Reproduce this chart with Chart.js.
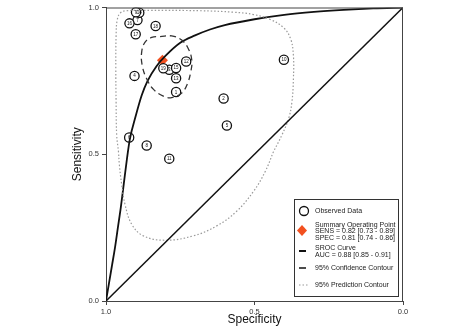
<!DOCTYPE html>
<html>
<head>
<meta charset="utf-8">
<script src="https://cdn.jsdelivr.net/npm/chart.js@4"></script>
<style>
  html, body { margin: 0; padding: 0; background: #fff; }
  #wrap { width: 474px; height: 331px; }
</style>
</head>
<body>
<div id="wrap"><canvas id="sroc" width="474" height="331"></canvas></div>
<script>
// Studien pisteet (specificity, sensitivity) ja numerot
const studyLabels = ["1", "2", "3", "4", "5", "6", "7", "8", "14", "9", "10", "11", "12", "13", "15", "16", "17", "18", "19"];
const studySpec = [0.764, 0.604, 0.787, 0.904, 0.593, 0.922, 0.894, 0.863, 0.888, 0.899, 0.401, 0.787, 0.730, 0.764, 0.764, 0.921, 0.900, 0.833, 0.807];
const studySens = [0.712, 0.690, 0.788, 0.767, 0.598, 0.557, 0.957, 0.530, 0.982, 0.984, 0.822, 0.485, 0.816, 0.759, 0.794, 0.946, 0.909, 0.937, 0.793];

// Yhteenvetopiste
const summarySpec = [0.81];
const summarySens = [0.82];

// SROC-kayra
const srocSpec = [1.0, 0.99, 0.98, 0.97, 0.96, 0.95, 0.94, 0.93, 0.92, 0.90, 0.88, 0.86, 0.83, 0.80, 0.75, 0.70, 0.65, 0.60, 0.50, 0.40, 0.30, 0.20, 0.10, 0.0];
const srocSens = [0.0, 0.06, 0.12, 0.18, 0.25, 0.32, 0.40, 0.48, 0.55, 0.63, 0.70, 0.75, 0.80, 0.835, 0.88, 0.905, 0.925, 0.940, 0.960, 0.975, 0.985, 0.992, 0.997, 1.0];

// 95% luottamusalue
const confSpec = [0.818, 0.779, 0.745, 0.722, 0.711, 0.715, 0.726, 0.745, 0.779, 0.807, 0.840, 0.863, 0.878, 0.880, 0.869, 0.846, 0.818];
const confSens = [0.901, 0.903, 0.889, 0.858, 0.819, 0.779, 0.740, 0.709, 0.693, 0.698, 0.721, 0.757, 0.802, 0.847, 0.881, 0.898, 0.901];

// 95% ennustealue
const predSpec = [0.436, 0.464, 0.503, 0.560, 0.627, 0.706, 0.801, 0.874, 0.913, 0.936, 0.947, 0.955, 0.958, 0.964, 0.966, 0.967, 0.966, 0.962, 0.951, 0.930, 0.852, 0.683, 0.571, 0.503, 0.447, 0.402, 0.378, 0.369, 0.369, 0.374, 0.385, 0.408, 0.436];
const predSens = [0.509, 0.441, 0.374, 0.306, 0.256, 0.222, 0.207, 0.222, 0.261, 0.329, 0.396, 0.464, 0.509, 0.565, 0.678, 0.791, 0.903, 0.959, 0.982, 0.989, 0.990, 0.989, 0.984, 0.976, 0.959, 0.931, 0.892, 0.836, 0.757, 0.678, 0.622, 0.565, 0.509];

// Diagonaali
const diagSpec = [1.0, 0.0];
const diagSens = [0.0, 1.0];

// Akselit
const axisTicks = [0, 0.5, 1];

const legendLines = {
  observed: "Observed Data",
  summary: ["Summary Operating Point", "SENS = 0.82 [0.73 - 0.89]", "SPEC = 0.81 [0.74 - 0.86]"],
  sroc: ["SROC Curve", "AUC = 0.88 [0.85 - 0.91]"],
  conf: "95% Confidence Contour",
  pred: "95% Prediction Contour"
};

const zip = (xs, ys) => xs.map((x, i) => ({ x: x, y: ys[i] }));

const FONT = "'Liberation Sans', Arial, sans-serif";

// Numerot ympyroiden sisaan + kehys + selite
const extras = {
  id: "extras",
  afterDatasetsDraw(chart) {
    const c = chart.ctx;
    const area = chart.chartArea;

    // numerot
    const meta = chart.getDatasetMeta(4);
    c.save();
    c.font = "4.5px " + FONT;
    c.fillStyle = "#111";
    c.textAlign = "center";
    c.textBaseline = "middle";
    meta.data.forEach((pt, i) => {
      c.fillText(studyLabels[i], pt.x, pt.y + 0.3);
    });
    c.restore();

    // kehys
    c.save();
    c.strokeStyle = "#444";
    c.lineWidth = 1;
    c.beginPath();
    c.moveTo(area.left, area.top + 0.5);
    c.lineTo(area.right - 0.5, area.top + 0.5);
    c.lineTo(area.right - 0.5, area.bottom);
    c.stroke();
    c.restore();

    // selite
    const lx = area.right - 109, ly = 199, lw = 104, lh = 97;
    c.save();
    c.fillStyle = "#fff";
    c.fillRect(lx, ly, lw, lh);
    c.strokeStyle = "#333";
    c.lineWidth = 1;
    c.strokeRect(lx + 0.5, ly + 0.5, lw, lh);

    const sx = lx + 10, tx = lx + 21;
    c.font = "7px " + FONT;
    c.fillStyle = "#222";
    c.textAlign = "left";
    c.textBaseline = "middle";

    // ympyra
    c.beginPath();
    c.arc(sx, ly + 12, 4.5, 0, Math.PI * 2);
    c.strokeStyle = "#111";
    c.lineWidth = 1.3;
    c.stroke();
    c.fillText(legendLines.observed, tx, ly + 12);

    // timantti
    c.beginPath();
    c.moveTo(sx - 2, ly + 26);
    c.lineTo(sx + 3, ly + 31.5);
    c.lineTo(sx - 2, ly + 37);
    c.lineTo(sx - 7, ly + 31.5);
    c.closePath();
    c.fillStyle = "#f2501f";
    c.fill();
    c.fillStyle = "#222";
    legendLines.summary.forEach((t, i) => c.fillText(t, tx, ly + 26 + i * 6.5));

    // SROC
    c.beginPath();
    c.moveTo(sx - 5, ly + 52);
    c.lineTo(sx + 2, ly + 52);
    c.strokeStyle = "#111";
    c.lineWidth = 2;
    c.stroke();
    legendLines.sroc.forEach((t, i) => c.fillText(t, tx, ly + 49 + i * 7));

    // luottamus
    c.beginPath();
    c.moveTo(sx - 5, ly + 69);
    c.lineTo(sx + 2, ly + 69);
    c.lineWidth = 1.5;
    c.stroke();
    c.fillText(legendLines.conf, tx, ly + 69.5);

    // ennuste
    c.beginPath();
    c.setLineDash([1.5, 2]);
    c.moveTo(sx - 5, ly + 86);
    c.lineTo(sx + 4, ly + 86);
    c.strokeStyle = "#999";
    c.lineWidth = 1.2;
    c.stroke();
    c.setLineDash([]);
    c.fillText(legendLines.pred, tx, ly + 86);
    c.restore();
  }
};

const ctx = document.getElementById("sroc").getContext("2d");

new Chart(ctx, {
  type: "scatter",
  data: {
    datasets: [
      {
        label: "diag",
        type: "line",
        data: zip(diagSpec, diagSens),
        borderColor: "#111",
        borderWidth: 1.5,
        pointRadius: 0,
        fill: false
      },
      {
        label: "pred",
        type: "line",
        data: zip(predSpec, predSens),
        borderColor: "#9a9a9a",
        borderWidth: 1.2,
        borderDash: [1.5, 2],
        pointRadius: 0,
        tension: 0.4,
        fill: false
      },
      {
        label: "conf",
        type: "line",
        data: zip(confSpec, confSens),
        borderColor: "#333",
        borderWidth: 1.3,
        borderDash: [6, 4],
        pointRadius: 0,
        tension: 0.4,
        fill: false
      },
      {
        label: "sroc",
        type: "line",
        data: zip(srocSpec, srocSens),
        borderColor: "#111",
        borderWidth: 1.8,
        pointRadius: 0,
        cubicInterpolationMode: "monotone",
        fill: false
      },
      {
        label: "studies",
        data: zip(studySpec, studySens),
        pointRadius: 4.6,
        pointBackgroundColor: "#fff",
        pointBorderColor: "#111",
        pointBorderWidth: 1.3
      },
      {
        label: "summary",
        data: zip(summarySpec, summarySens),
        pointStyle: "rectRot",
        pointRadius: 5.5,
        pointBackgroundColor: "#f2501f",
        pointBorderColor: "#f2501f",
        pointBorderWidth: 0
      }
    ]
  },
  options: {
    responsive: false,
    animation: false,
    layout: { padding: { left: 66, right: 71, top: 5, bottom: 0 } },
    plugins: {
      legend: { display: false },
      tooltip: { enabled: false }
    },
    scales: {
      x: {
        type: "linear",
        min: 0,
        max: 1,
        reverse: true,
        afterFit: s => { s.height = 30; },
        afterBuildTicks: s => { s.ticks = axisTicks.map(v => ({ value: v })); },
        ticks: {
          padding: 2,
          font: { family: FONT, size: 7.5 },
          color: "#333",
          callback: v => v.toFixed(1)
        },
        grid: { drawOnChartArea: false, tickLength: 4, color: "#444" },
        border: { color: "#444", width: 1 },
        title: {
          display: true,
          text: "Specificity",
          font: { family: FONT, size: 12 },
          color: "#111",
          padding: { top: 0, bottom: 4 }
        }
      },
      y: {
        type: "linear",
        min: 0,
        max: 1,
        afterFit: s => { s.width = 40; },
        afterBuildTicks: s => { s.ticks = axisTicks.map(v => ({ value: v })); },
        ticks: {
          padding: 3,
          font: { family: FONT, size: 7.5 },
          color: "#333",
          callback: v => v.toFixed(1)
        },
        grid: { drawOnChartArea: false, tickLength: 4, color: "#444" },
        border: { color: "#444", width: 1 },
        title: {
          display: true,
          text: "Sensitivity",
          font: { family: FONT, size: 12 },
          color: "#111",
          padding: { top: 4, bottom: 0 }
        }
      }
    }
  },
  plugins: [extras]
});
</script>
</body>
</html>
